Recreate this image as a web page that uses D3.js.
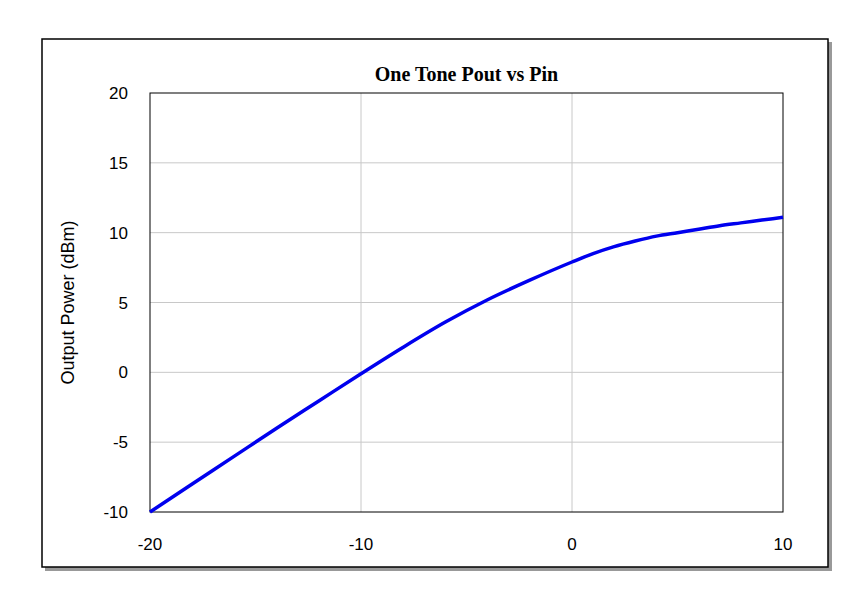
<!DOCTYPE html>
<html><head><meta charset="utf-8">
<script src="https://cdn.jsdelivr.net/npm/d3@7"></script>
<style>body{margin:0;background:#fff}</style>
</head><body>
<svg id="chart" width="864" height="611"></svg>
<script>
// Pin (dBm) vs Pout (dBm)
const pin = [-20, -18, -16, -14, -12, -10, -8, -6, -4, -2, 0, 1, 2, 3, 4, 5, 6, 7, 8, 9, 10];
const pout = [-10, -8, -6, -4, -2.05, -0.1, 1.8, 3.6, 5.2, 6.6, 7.9, 8.5, 9.0, 9.4, 9.75, 10.0, 10.25, 10.5, 10.7, 10.9, 11.1];
const xTicks = [-20, -10, 0, 10];
const yTicks = [-10, -5, 0, 5, 10, 15, 20];

const svg = d3.select("#chart");
const box = {l: 42, t: 39, r: 828, b: 567};
const plot = {l: 150, t: 93, r: 783, b: 512};

// frame with shadow
svg.append("rect").attr("x", box.l + 3).attr("y", box.t + 3)
  .attr("width", box.r - box.l + 1).attr("height", box.b - box.t + 1).attr("fill", "#999");
svg.append("rect").attr("x", box.l).attr("y", box.t)
  .attr("width", box.r - box.l).attr("height", box.b - box.t)
  .attr("fill", "#fff").attr("stroke", "#000").attr("stroke-width", 1.5);

const x = d3.scaleLinear().domain([-20, 10]).range([plot.l, plot.r]);
const y = d3.scaleLinear().domain([-10, 20]).range([plot.b, plot.t]);

// grid
svg.append("g").selectAll("line").data(xTicks.slice(1, -1)).join("line")
  .attr("x1", d => x(d)).attr("x2", d => x(d)).attr("y1", plot.t).attr("y2", plot.b)
  .attr("stroke", "#c8c8c8");
svg.append("g").selectAll("line").data(yTicks.slice(1, -1)).join("line")
  .attr("y1", d => y(d)).attr("y2", d => y(d)).attr("x1", plot.l).attr("x2", plot.r)
  .attr("stroke", "#c8c8c8");

svg.append("rect").attr("x", plot.l).attr("y", plot.t)
  .attr("width", plot.r - plot.l).attr("height", plot.b - plot.t)
  .attr("fill", "none").attr("stroke", "#000").attr("stroke-width", 1);

const font = "Arial, 'Liberation Sans', sans-serif";
svg.append("g").selectAll("text").data(xTicks).join("text")
  .attr("x", d => x(d)).attr("y", plot.b + 38).attr("text-anchor", "middle")
  .attr("font-family", font).attr("font-size", 17).text(d => d);
svg.append("g").selectAll("text").data(yTicks).join("text")
  .attr("x", plot.l - 22).attr("y", d => y(d) + 6).attr("text-anchor", "end")
  .attr("font-family", font).attr("font-size", 17).text(d => d);

svg.append("text").attr("x", (plot.l + plot.r) / 2).attr("y", 81).attr("text-anchor", "middle")
  .attr("font-family", "'Times New Roman', 'Liberation Serif', serif").attr("font-weight", "bold")
  .attr("font-size", 20).text("One Tone Pout vs Pin");

svg.append("text").attr("transform", `translate(74,${(plot.t + plot.b) / 2}) rotate(-90)`)
  .attr("text-anchor", "middle").attr("font-family", font).attr("font-size", 18)
  .text("Output Power (dBm)");

const line = d3.line().x(d => x(d[0])).y(d => y(d[1])).curve(d3.curveMonotoneX);
svg.append("path").datum(d3.zip(pin, pout)).attr("d", line)
  .attr("fill", "none").attr("stroke", "#0000ee").attr("stroke-width", 3.5);
</script>
</body></html>
